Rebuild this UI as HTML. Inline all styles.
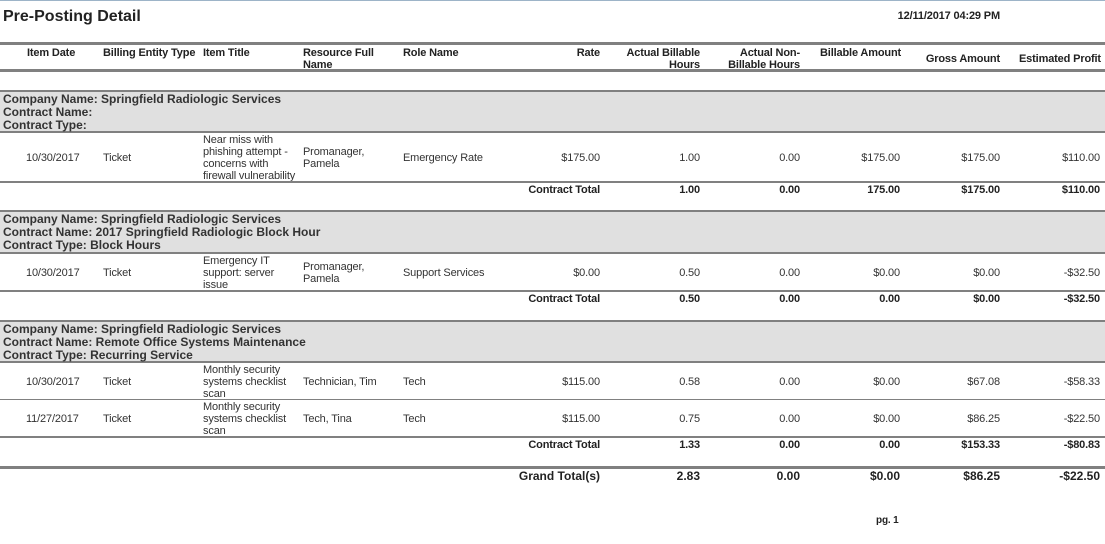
<!DOCTYPE html>
<html><head><meta charset="utf-8"><style>
body{margin:0;width:1105px;height:544px;overflow:hidden;background:#fff;font-family:"Liberation Sans",sans-serif;color:#333;position:relative}
div{position:absolute;white-space:nowrap}
.t{font-size:11px;line-height:12px;margin-top:1px;letter-spacing:-0.15px}
.b{font-weight:bold;color:#222}
.r{text-align:right}
.bar{background:#808080;left:0;width:1105px;margin-top:0}
.band{background:#e0e0e0;left:0;width:1105px}
.g{font-size:12px;line-height:13px;font-weight:bold;left:3px;color:#333;margin-top:1px}
</style></head><body>
<div style="left:0;top:0;width:1105px;height:1px;background:#9db4c8"></div>
<div style="left:3px;top:8px;font-size:16px;font-weight:bold;color:#222">Pre-Posting Detail</div>
<div class="t b" style="left:860px;top:9px;width:140px;text-align:right">12/11/2017 04:29 PM</div>

<div class="bar" style="top:42px;height:3px"></div>
<div class="bar" style="top:69px;height:3px"></div>
<div class="t b" style="left:27px;top:46px">Item Date</div>
<div class="t b" style="left:103px;top:46px">Billing Entity Type</div>
<div class="t b" style="left:203px;top:46px">Item Title</div>
<div class="t b" style="left:303px;top:46px">Resource Full<br>Name</div>
<div class="t b" style="left:403px;top:46px">Role Name</div>
<div class="t b r" style="left:500px;width:100px;top:46px">Rate</div>
<div class="t b r" style="left:600px;width:100px;top:46px">Actual Billable<br>Hours</div>
<div class="t b r" style="left:700px;width:100px;top:46px">Actual Non-<br>Billable Hours</div>
<div class="t b" style="left:820px;top:46px">Billable Amount</div>
<div class="t b r" style="left:900px;width:100px;top:52px">Gross Amount</div>
<div class="t b" style="left:1019px;top:52px">Estimated Profit</div>

<!-- section 1 -->
<div class="bar" style="top:90px;height:2px"></div>
<div class="band" style="top:92px;height:39px"></div>
<div class="bar" style="top:131px;height:2px"></div>
<div class="g" style="top:92px">Company Name: Springfield Radiologic Services<br>Contract Name:<br>Contract Type:</div>
<div class="t" style="left:26px;top:151px">10/30/2017</div>
<div class="t" style="left:103px;top:151px">Ticket</div>
<div class="t" style="left:203px;top:133px">Near miss with<br>phishing attempt -<br>concerns with<br>firewall vulnerability</div>
<div class="t" style="left:303px;top:145px">Promanager,<br>Pamela</div>
<div class="t" style="left:403px;top:151px">Emergency Rate</div>
<div class="t r" style="left:500px;width:100px;top:151px">$175.00</div>
<div class="t r" style="left:600px;width:100px;top:151px">1.00</div>
<div class="t r" style="left:700px;width:100px;top:151px">0.00</div>
<div class="t r" style="left:800px;width:100px;top:151px">$175.00</div>
<div class="t r" style="left:900px;width:100px;top:151px">$175.00</div>
<div class="t r" style="left:1000px;width:100px;top:151px">$110.00</div>
<div class="bar" style="top:181px;height:2px"></div>
<div class="t b r" style="left:450px;width:150px;top:183px">Contract Total</div>
<div class="t b r" style="left:600px;width:100px;top:183px">1.00</div>
<div class="t b r" style="left:700px;width:100px;top:183px">0.00</div>
<div class="t b r" style="left:800px;width:100px;top:183px">175.00</div>
<div class="t b r" style="left:900px;width:100px;top:183px">$175.00</div>
<div class="t b r" style="left:1000px;width:100px;top:183px">$110.00</div>

<!-- section 2 -->
<div class="bar" style="top:210px;height:2px"></div>
<div class="band" style="top:212px;height:40px"></div>
<div class="bar" style="top:252px;height:2px"></div>
<div class="g" style="top:212px">Company Name: Springfield Radiologic Services<br>Contract Name: 2017 Springfield Radiologic Block Hour<br>Contract Type: Block Hours</div>
<div class="t" style="left:26px;top:266px">10/30/2017</div>
<div class="t" style="left:103px;top:266px">Ticket</div>
<div class="t" style="left:203px;top:254px">Emergency IT<br>support: server<br>issue</div>
<div class="t" style="left:303px;top:260px">Promanager,<br>Pamela</div>
<div class="t" style="left:403px;top:266px">Support Services</div>
<div class="t r" style="left:500px;width:100px;top:266px">$0.00</div>
<div class="t r" style="left:600px;width:100px;top:266px">0.50</div>
<div class="t r" style="left:700px;width:100px;top:266px">0.00</div>
<div class="t r" style="left:800px;width:100px;top:266px">$0.00</div>
<div class="t r" style="left:900px;width:100px;top:266px">$0.00</div>
<div class="t r" style="left:1000px;width:100px;top:266px">-$32.50</div>
<div class="bar" style="top:290px;height:2px"></div>
<div class="t b r" style="left:450px;width:150px;top:292px">Contract Total</div>
<div class="t b r" style="left:600px;width:100px;top:292px">0.50</div>
<div class="t b r" style="left:700px;width:100px;top:292px">0.00</div>
<div class="t b r" style="left:800px;width:100px;top:292px">0.00</div>
<div class="t b r" style="left:900px;width:100px;top:292px">$0.00</div>
<div class="t b r" style="left:1000px;width:100px;top:292px">-$32.50</div>

<!-- section 3 -->
<div class="bar" style="top:320px;height:2px"></div>
<div class="band" style="top:322px;height:39px"></div>
<div class="bar" style="top:361px;height:2px"></div>
<div class="g" style="top:322px">Company Name: Springfield Radiologic Services<br>Contract Name: Remote Office Systems Maintenance<br>Contract Type: Recurring Service</div>
<div class="t" style="left:26px;top:375px">10/30/2017</div>
<div class="t" style="left:103px;top:375px">Ticket</div>
<div class="t" style="left:203px;top:363px">Monthly security<br>systems checklist<br>scan</div>
<div class="t" style="left:303px;top:375px">Technician, Tim</div>
<div class="t" style="left:403px;top:375px">Tech</div>
<div class="t r" style="left:500px;width:100px;top:375px">$115.00</div>
<div class="t r" style="left:600px;width:100px;top:375px">0.58</div>
<div class="t r" style="left:700px;width:100px;top:375px">0.00</div>
<div class="t r" style="left:800px;width:100px;top:375px">$0.00</div>
<div class="t r" style="left:900px;width:100px;top:375px">$67.08</div>
<div class="t r" style="left:1000px;width:100px;top:375px">-$58.33</div>
<div class="bar" style="top:399px;height:1px"></div>
<div class="t" style="left:26px;top:412px">11/27/2017</div>
<div class="t" style="left:103px;top:412px">Ticket</div>
<div class="t" style="left:203px;top:400px">Monthly security<br>systems checklist<br>scan</div>
<div class="t" style="left:303px;top:412px">Tech, Tina</div>
<div class="t" style="left:403px;top:412px">Tech</div>
<div class="t r" style="left:500px;width:100px;top:412px">$115.00</div>
<div class="t r" style="left:600px;width:100px;top:412px">0.75</div>
<div class="t r" style="left:700px;width:100px;top:412px">0.00</div>
<div class="t r" style="left:800px;width:100px;top:412px">$0.00</div>
<div class="t r" style="left:900px;width:100px;top:412px">$86.25</div>
<div class="t r" style="left:1000px;width:100px;top:412px">-$22.50</div>
<div class="bar" style="top:436px;height:2px"></div>
<div class="t b r" style="left:450px;width:150px;top:438px">Contract Total</div>
<div class="t b r" style="left:600px;width:100px;top:438px">1.33</div>
<div class="t b r" style="left:700px;width:100px;top:438px">0.00</div>
<div class="t b r" style="left:800px;width:100px;top:438px">0.00</div>
<div class="t b r" style="left:900px;width:100px;top:438px">$153.33</div>
<div class="t b r" style="left:1000px;width:100px;top:438px">-$80.83</div>

<div class="bar" style="top:466px;height:3px"></div>
<div class="b r" style="left:450px;width:150px;top:469px;font-size:12px;line-height:14px">Grand Total(s)</div>
<div class="b r" style="left:600px;width:100px;top:469px;font-size:12px;line-height:14px">2.83</div>
<div class="b r" style="left:700px;width:100px;top:469px;font-size:12px;line-height:14px">0.00</div>
<div class="b r" style="left:800px;width:100px;top:469px;font-size:12px;line-height:14px">$0.00</div>
<div class="b r" style="left:900px;width:100px;top:469px;font-size:12px;line-height:14px">$86.25</div>
<div class="b r" style="left:1000px;width:100px;top:469px;font-size:12px;line-height:14px">-$22.50</div>

<div class="t b" style="left:876px;top:514px;font-size:10px">pg. 1</div>
</body></html>
